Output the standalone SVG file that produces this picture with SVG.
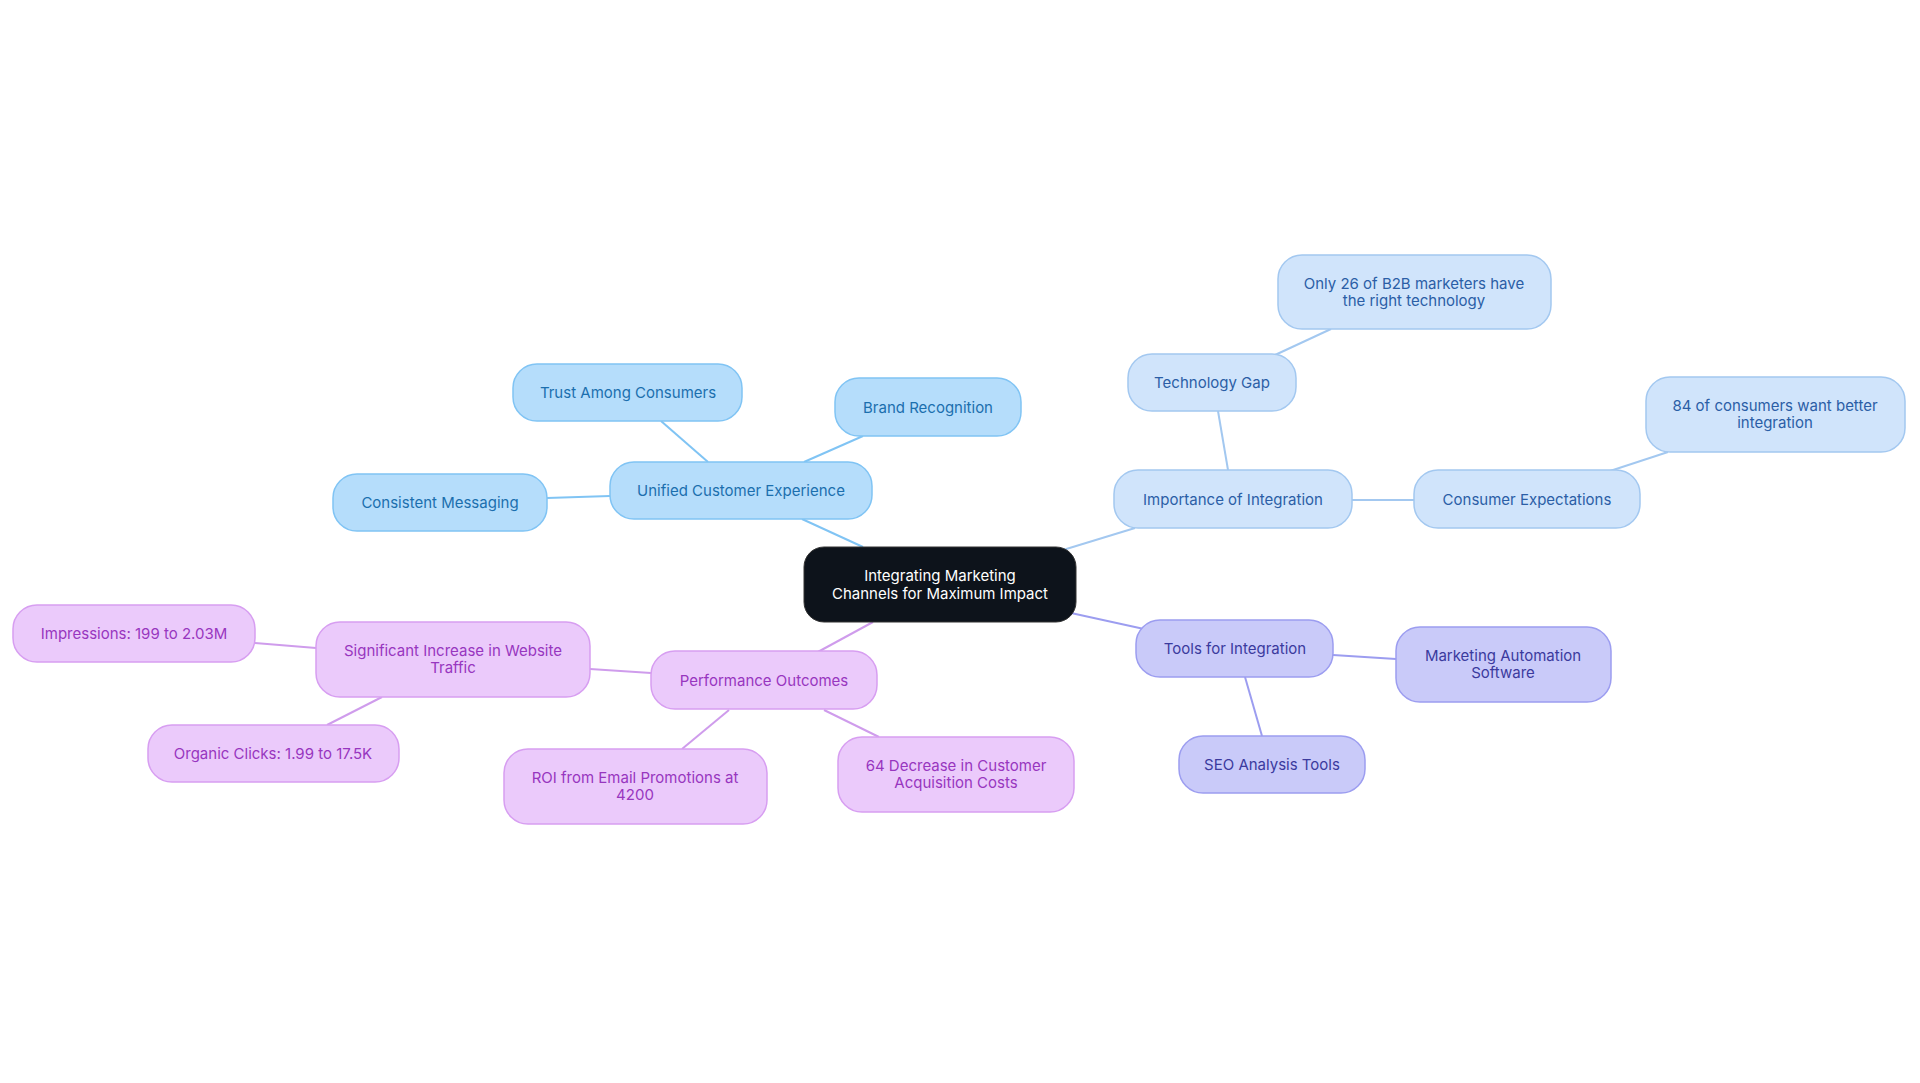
<svg xmlns="http://www.w3.org/2000/svg" width="1920" height="1083" viewBox="0 0 1920 1083">
<style>
text{font-family:Inter,"Noto Sans",sans-serif;font-size:15px;text-anchor:middle;dominant-baseline:central}
.a rect{fill:#b5ddfb;stroke:#80c4f4;stroke-width:1.5}.a text{fill:#1b6fae}
.b rect{fill:#d0e4fb;stroke:#a3c8f0;stroke-width:1.5}.b text{fill:#2b5ea6}
.c rect{fill:#c9caf9;stroke:#9c9df0;stroke-width:1.5}.c text{fill:#3b3a9e}
.d rect{fill:#ebcafb;stroke:#d79ef1;stroke-width:1.5}.d text{fill:#9836bf}
.e line{stroke-width:2}
.ea{stroke:#80c4f4}.eb{stroke:#a3c8f0}.ec{stroke:#9c9df0}.ed{stroke:#cf9cec}
</style>
<rect width="1920" height="1083" fill="#fff"/>
<g class="e" id="connectors">
<line class="ea" x1="863" y1="547" x2="802" y2="519"/>
<line class="ea" x1="708" y1="462" x2="661" y2="421"/>
<line class="ea" x1="804" y1="462" x2="863" y2="436"/>
<line class="ea" x1="610" y1="496" x2="547" y2="498"/>
<line class="eb" x1="1063" y1="550" x2="1135" y2="528"/>
<line class="eb" x1="1228" y1="470" x2="1218" y2="411"/>
<line class="eb" x1="1275" y1="355" x2="1331" y2="329"/>
<line class="eb" x1="1352" y1="500" x2="1414" y2="500"/>
<line class="eb" x1="1610" y1="471" x2="1668" y2="452"/>
<line class="ec" x1="1071" y1="613" x2="1144" y2="629"/>
<line class="ec" x1="1333" y1="655" x2="1396" y2="659"/>
<line class="ec" x1="1245" y1="677" x2="1262" y2="736"/>
<line class="ed" x1="873" y1="622" x2="816" y2="653"/>
<line class="ed" x1="651" y1="673" x2="590" y2="669"/>
<line class="ed" x1="316" y1="648" x2="255" y2="643"/>
<line class="ed" x1="382" y1="697" x2="327" y2="725"/>
<line class="ed" x1="729" y1="710" x2="682" y2="749"/>
<line class="ed" x1="824" y1="710" x2="879" y2="737"/>
</g>
<g id="center"><rect x="804" y="547" width="272" height="75" rx="20" fill="#0d131b" stroke="#333" stroke-width="1"/><text x="940" y="575" fill="#fff" font-size="16">Integrating Marketing</text><text x="940" y="593" fill="#fff" font-size="16">Channels for Maximum Impact</text></g>
<g id="uce" class="a"><rect x="610" y="462" width="262" height="57" rx="24"/><text x="741" y="490">Unified Customer Experience</text></g>
<g id="trust" class="a"><rect x="513" y="364" width="229" height="57" rx="24"/><text x="628" y="392">Trust Among Consumers</text></g>
<g id="brand" class="a"><rect x="835" y="378" width="186" height="58" rx="24"/><text x="928" y="407">Brand Recognition</text></g>
<g id="consistent" class="a"><rect x="333" y="474" width="214" height="57" rx="24"/><text x="440" y="502">Consistent Messaging</text></g>
<g id="importance" class="b"><rect x="1114" y="470" width="238" height="58" rx="24"/><text x="1233" y="499">Importance of Integration</text></g>
<g id="techgap" class="b"><rect x="1128" y="354" width="168" height="57" rx="24"/><text x="1212" y="382">Technology Gap</text></g>
<g id="only26" class="b"><rect x="1278" y="255" width="273" height="74" rx="24"/><text x="1414" y="283">Only 26 of B2B marketers have</text><text x="1414" y="300">the right technology</text></g>
<g id="consumer" class="b"><rect x="1414" y="470" width="226" height="58" rx="24"/><text x="1527" y="499">Consumer Expectations</text></g>
<g id="c84" class="b"><rect x="1646" y="377" width="259" height="75" rx="24"/><text x="1775" y="405">84 of consumers want better</text><text x="1775" y="422">integration</text></g>
<g id="tools" class="c"><rect x="1136" y="620" width="197" height="57" rx="24"/><text x="1235" y="648">Tools for Integration</text></g>
<g id="mas" class="c"><rect x="1396" y="627" width="215" height="75" rx="24"/><text x="1503" y="655">Marketing Automation</text><text x="1503" y="672">Software</text></g>
<g id="seo" class="c"><rect x="1179" y="736" width="186" height="57" rx="24"/><text x="1272" y="764">SEO Analysis Tools</text></g>
<g id="perf" class="d"><rect x="651" y="651" width="226" height="58" rx="24"/><text x="764" y="680">Performance Outcomes</text></g>
<g id="sig" class="d"><rect x="316" y="622" width="274" height="75" rx="24"/><text x="453" y="650">Significant Increase in Website</text><text x="453" y="667">Traffic</text></g>
<g id="impr" class="d"><rect x="13" y="605" width="242" height="57" rx="24"/><text x="134" y="633">Impressions: 199 to 2.03M</text></g>
<g id="organic" class="d"><rect x="148" y="725" width="251" height="57" rx="24"/><text x="273" y="753">Organic Clicks: 1.99 to 17.5K</text></g>
<g id="roi" class="d"><rect x="504" y="749" width="263" height="75" rx="24"/><text x="635" y="777">ROI from Email Promotions at</text><text x="635" y="794">4200</text></g>
<g id="cac" class="d"><rect x="838" y="737" width="236" height="75" rx="24"/><text x="956" y="765">64 Decrease in Customer</text><text x="956" y="782">Acquisition Costs</text></g>
</svg>
